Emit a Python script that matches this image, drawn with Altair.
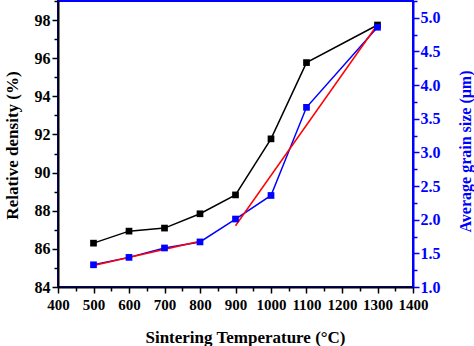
import altair as alt
import pandas as pd

temps = [500, 600, 700, 800, 900, 1000, 1100, 1300]
density = [86.3, 86.93, 87.09, 87.84, 88.83, 91.77, 95.77, 97.74]
grain = [1.33, 1.44, 1.58, 1.67, 2.01, 2.36, 3.67, 4.86]
fit_x = [500, 800, 900, 1300]
fit_y = [1.32, 1.68, 1.91, 4.90]
fit_seg = ["a", "a", "b", "b"]
x_ticks = list(range(400, 1401, 50))
left_ticks = list(range(84, 100, 1))
right_major = [1.0, 1.5, 2.0, 2.5, 3.0, 3.5, 4.0, 4.5, 5.0]
right_minor = [1.25, 1.75, 2.25, 2.75, 3.25, 3.75, 4.25, 4.75, 5.25]

df_d = pd.DataFrame({"T": temps, "density": density})
df_g = pd.DataFrame({"T": temps, "grain": grain})
df_f = pd.DataFrame({"T": fit_x, "grain": fit_y, "seg": fit_seg})

FONT = "Liberation Serif"

xscale = alt.Scale(domain=[400, 1400], nice=False, zero=False)
xaxis = alt.Axis(
    title="Sintering Temperature (°C)",
    values=x_ticks,
    labelExpr="datum.value % 100 == 0 ? datum.label : ''",
    format="d",
    grid=False,
    domainColor="black", domainWidth=2,
    tickColor="black", tickWidth=1.5,
    tickSize={"condition": {"test": "datum.value % 100 == 0", "value": 6}, "value": 4},
    labelFont=FONT, labelFontSize=15, labelFontWeight="bold", labelColor="black",
    labelPadding=4, labelFlush=False, labelOverlap=False,
    titleFont=FONT, titleFontSize=17, titleFontWeight="bold", titleColor="black",
    titleX=187, titleY=50, titleAlign="center", titleBaseline="middle",
)

left_axis = alt.Axis(
    title="Relative density (%)",
    values=left_ticks,
    labelExpr="datum.value % 2 == 0 ? datum.label : ''",
    grid=False,
    domainColor="black", domainWidth=2,
    tickColor="black", tickWidth=1.5,
    tickSize={"condition": {"test": "datum.value % 2 == 0", "value": 6}, "value": 4},
    labelFont=FONT, labelFontSize=16, labelFontWeight="bold", labelColor="black",
    labelPadding=2, labelFlush=False, labelOverlap=False,
    titleFont=FONT, titleFontSize=17, titleFontWeight="bold", titleColor="black",
    titleAngle=270, titleX=-46, titleY=144, titleAlign="center", titleBaseline="middle",
)

right_axis = alt.Axis(
    title="Average grain size (μm)",
    orient="right",
    values=right_major,
    labelExpr="format(datum.value, '.1f')",
    grid=False,
    domainColor="blue", domainWidth=2,
    tickColor="blue", tickWidth=1.5, tickSize=6,
    labelFont=FONT, labelFontSize=16, labelFontWeight="bold", labelColor="blue",
    labelPadding=1, labelFlush=False, labelOverlap=False,
    titleFont=FONT, titleFontSize=16, titleFontWeight="bold", titleColor="blue",
    titleAngle=270, titleX=52, titleY=150, titleAlign="center", titleBaseline="middle",
)

minor_axis = alt.Axis(
    title=None, orient="right", values=right_minor, labels=False, domain=False,
    grid=False, tickColor="blue", tickWidth=1.5, tickSize=4,
)

x = alt.X("T:Q", scale=xscale, axis=xaxis)
dscale = alt.Scale(domain=[84, 99], nice=False, zero=False)
gscale = alt.Scale(domain=[1.0, 5.25], nice=False, zero=False)

dy = alt.Y("density:Q", scale=dscale, axis=left_axis)
dens_line = alt.Chart(df_d).mark_line(color="black", strokeWidth=1.5).encode(x=x, y=dy)
dens_pts = alt.Chart(df_d).mark_square(color="black", size=45, opacity=1).encode(x=x, y=dy)
left = alt.layer(dens_line, dens_pts)

gy = alt.Y("grain:Q", scale=gscale, axis=right_axis)
grain_line = alt.Chart(df_g).mark_line(color="blue", strokeWidth=1.5).encode(x=x, y=gy)
grain_pts = alt.Chart(df_g).mark_square(color="blue", size=45, opacity=1).encode(x=x, y=gy)
fit = alt.Chart(df_f).mark_line(color="red", strokeWidth=1.5).encode(x=x, y=gy, detail="seg:N")
right = alt.layer(grain_line, fit, grain_pts)

minor = alt.Chart(df_g).mark_point(opacity=0).encode(
    x=x, y=alt.Y("grain:Q", scale=gscale, axis=minor_axis)
)

chart = alt.layer(left, right, minor).resolve_scale(y="independent").properties(
    width=355, height=286,
    autosize=alt.AutoSizeParams(type="none"),
    padding={"left": 58, "top": 1, "right": 61, "bottom": 59},
    background="white",
).configure_view(stroke="blue", strokeWidth=2).configure_axisRight(labelOverlap=False)

chart.save("out.html", embed_options={"renderer": "svg", "actions": False})
